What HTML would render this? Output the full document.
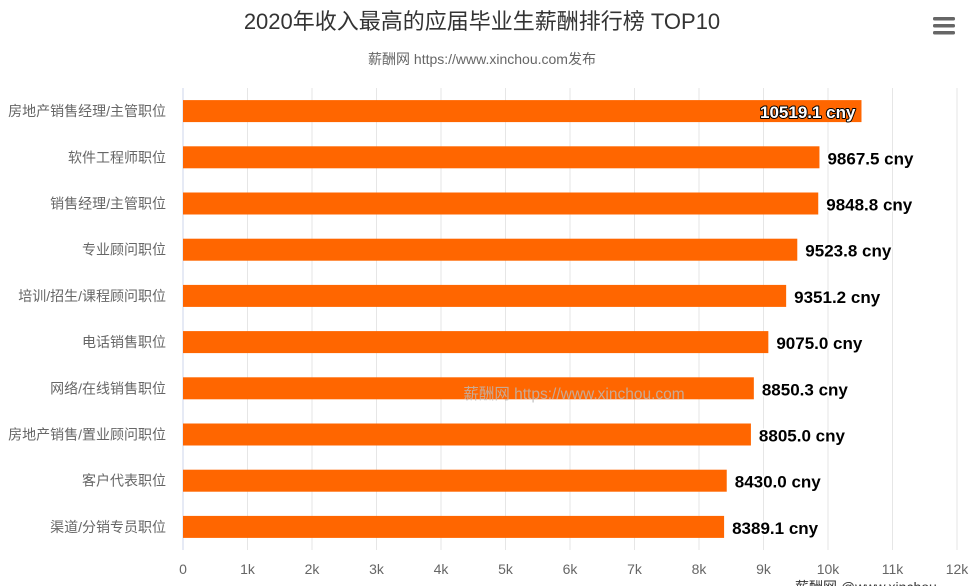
<!DOCTYPE html>
<html><head><meta charset="utf-8"><style>
body{margin:0;background:#fff;}
svg{display:block;font-family:"Liberation Sans","Noto Sans CJK SC",sans-serif;}
</style></head><body>
<svg id="c" width="971" height="586">
<text x="482" y="29" text-anchor="middle" font-size="22" fill="#333">2020年收入最高的应届毕业生薪酬排行榜 TOP10</text>
<text x="482" y="64" text-anchor="middle" font-size="14" fill="#666">薪酬网 https://www.xinchou.com发布</text>
<g><rect x="933" y="17" width="22" height="3.5" rx="1.5" fill="#666"/><rect x="933" y="24" width="22" height="3.5" rx="1.5" fill="#666"/><rect x="933" y="31" width="22" height="3.5" rx="1.5" fill="#666"/></g>
<g id="grid"></g><g id="bars"></g><g id="labels"></g>
<text x="574" y="399" text-anchor="middle" font-size="15.5" fill="#bbb" opacity="0.8">薪酬网 https://www.xinchou.com</text>
<text x="795" y="592" font-size="14" fill="#333">薪酬网 @www.xinchou</text>
</svg>
<script>
const categories=["房地产销售经理/主管职位","软件工程师职位","销售经理/主管职位","专业顾问职位","培训/招生/课程顾问职位","电话销售职位","网络/在线销售职位","房地产销售/置业顾问职位","客户代表职位","渠道/分销专员职位"];
const values=[10519.1,9867.5,9848.8,9523.8,9351.2,9075.0,8850.3,8805.0,8430.0,8389.1];
const ticks=[0,1000,2000,3000,4000,5000,6000,7000,8000,9000,10000,11000,12000];
const tickLabels=["0","1k","2k","3k","4k","5k","6k","7k","8k","9k","10k","11k","12k"];
const NS="http://www.w3.org/2000/svg";
const x0=183,x1=957,yTop=88,yBot=550,xmax=12000;
const xs=v=>x0+(v/xmax)*(x1-x0);
const band=(yBot-yTop)/categories.length;
const yc=i=>yTop+band*(i+0.5);
function mk(t,a,p){const e=document.createElementNS(NS,t);for(const k in a)e.setAttribute(k,a[k]);p.appendChild(e);return e;}
const g=document.getElementById('grid'),b=document.getElementById('bars'),l=document.getElementById('labels');
ticks.forEach((t,i)=>{
 const ln=mk('line',{x1:xs(t),x2:xs(t),y1:yTop,y2:yBot,stroke:'#e6e6e6','stroke-width':1},g);
 
 
 const tx=mk('text',{x:xs(t),y:574,'text-anchor':'middle','font-size':14,fill:'#666'},g);
 tx.textContent=tickLabels[i];
 
 
});
const ax=mk('line',{x1:x0,x2:x0,y1:yTop,y2:yBot,stroke:'#ccd6eb'},g);


categories.forEach((c,i)=>{
 const y=yc(i);
 const cl=mk('text',{x:166,y:y+5,'text-anchor':'end','font-size':14,fill:'#666'},l);
 cl.textContent=c;
 
 
 const r=mk('rect',{x:x0,y:y-11,width:xs(values[i])-x0,height:22,fill:'#ff6600'},b);
 
 
 const txt=values[i].toFixed(1)+' cny';
 const inside=values[i]>10000;
 const vx=inside?xs(values[i])-6:xs(values[i])+8;
 const vl=mk('text',{x:vx,y:y+7,'text-anchor':inside?'end':'start','font-size':17,'font-weight':'bold',fill:inside?'#fff':'#000',stroke:inside?'#000':'#fff','stroke-width':inside?2:3,'paint-order':'stroke','stroke-linejoin':'round'},l);
 vl.textContent=txt;
 
 
});
</script>
</body></html>
